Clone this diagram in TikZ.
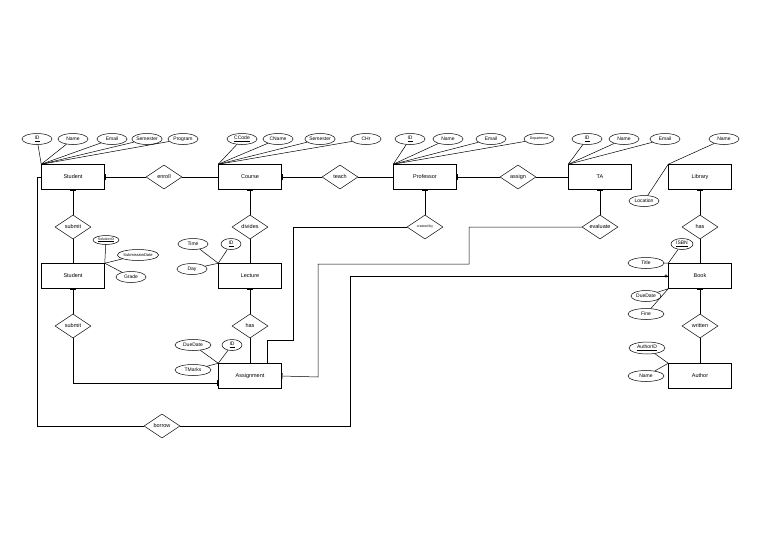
\documentclass[tikz,border=0pt]{standalone}
\usepackage{fontspec}
\setmainfont{Liberation Sans}
\usetikzlibrary{shapes.geometric,arrows.meta}
\begin{document}
\begin{tikzpicture}[x=1pt,y=-1pt,
  ent/.style={draw,minimum width=63pt,minimum height=25pt,font=\fontsize{5.5}{6}\selectfont,inner sep=0},
  rel/.style={draw,diamond,aspect=1.5,minimum width=36pt,minimum height=24pt,inner sep=0,font=\fontsize{5.5}{6}\selectfont},
  att/.style={draw,ellipse,minimum width=30pt,minimum height=11pt,inner sep=0,font=\fontsize{5}{6}\selectfont},
  mk/.style={-{Bar[width=6pt,line width=0.7pt]}},
  mm/.style={-{Bar[width=6pt,line width=0.7pt]Bar[width=6pt,line width=0.7pt]}},
  line width=0.5pt]
\useasboundingbox (0,0) rectangle (768,543);
% entities
\node[ent] (stu) at (73,177) {Student};
\node[ent] (crs) at (250,177) {Course};
\node[ent] (prof) at (425,177) {Professor};
\node[ent] (ta) at (600,177) {TA};
\node[ent] (lib) at (700,177) {Library};
\node[ent] (stu2) at (73,276) {Student};
\node[ent] (lec) at (250,276) {Lecture};
\node[ent] (book) at (700,276) {Book};
\node[ent] (asg) at (250,376) {Assignment};
\node[ent] (auth) at (700,376) {Author};
% relations
\node[rel] (enroll) at (164,177) {enroll};
\node[rel] (teach) at (340,177) {teach};
\node[rel] (assign) at (518,177) {assign};
\node[rel] (submit) at (73,227) {submit};
\node[rel] (divides) at (250,227) {divides};
\node[rel,font=\fontsize{3.5}{4}\selectfont] (cby) at (425,227) {created by};
\node[rel] (eval) at (600,227) {evaluate};
\node[rel] (has) at (700,227) {has};
\node[rel] (submit2) at (73,326) {submit};
\node[rel] (has2) at (250,326) {has};
\node[rel] (written) at (700,326) {written};
\node[rel] (borrow) at (162,426) {borrow};
% attributes
\foreach \n/\x/\t in {s1/37/\underline{ID},s2/73/Name,s3/112/Email,s4/147/Semester,s5/183/Program}
  {\node[att] (\n) at (\x,139) {\t}; \draw (\n) -- (stu.north west);}
\foreach \n/\x/\t in {c1/242/\underline{CCode},c2/278/CName,c3/320/Semester,c4/366/CHr}
  {\node[att] (\n) at (\x,139) {\t}; \draw (\n) -- (crs.north west);}
\foreach \n/\x/\t in {p1/410/\underline{ID},p2/448/Name,p3/491/Email,p4/539/{\fontsize{3.5}{4}\selectfont Department}}
  {\node[att] (\n) at (\x,139) {\t}; \draw (\n) -- (prof.north west);}
\foreach \n/\x/\t in {t1/587/\underline{ID},t2/624/Name,t3/665/Email}
  {\node[att] (\n) at (\x,139) {\t}; \draw (\n) -- (ta.north west);}
\node[att] (l1) at (724,139) {Name}; \draw (l1) -- (lib.north west);
\node[att] (l2) at (644,201) {Location}; \draw (l2) -- (lib.north west);
\node[att,minimum width=26pt,minimum height=9pt,font=\fontsize{3.5}{4}\selectfont] (sa1) at (106,240) {\underline{SolutionID}};
\node[att,minimum width=40pt,font=\fontsize{4}{5}\selectfont] (sa2) at (138,255) {SubmissionDate};
\node[att] (sa3) at (131,277) {Grade};
\foreach \n in {sa1,sa2,sa3} \draw (\n) -- (stu2.north east);
\node[att] (la1) at (193,244) {Time};
\node[att,minimum width=20pt] (la2) at (231,244) {\underline{ID}};
\node[att] (la3) at (192,269) {Day};
\foreach \n in {la1,la2,la3} \draw (\n) -- (lec.north west);
\node[att,minimum width=36pt] (aa1) at (193,345) {DueDate};
\node[att,minimum width=20pt] (aa2) at (232,345) {\underline{ID}};
\node[att,minimum width=36pt] (aa3) at (193,370) {TMarks};
\foreach \n in {aa1,aa2,aa3} \draw (\n) -- (asg.north west);
\node[att,minimum width=22pt] (ba1) at (682,244) {\underline{ISBN}};
\node[att,minimum width=36pt] (ba2) at (646,263) {Title};
\node[att] (ba3) at (646,296) {DueDate};
\node[att,minimum width=36pt] (ba4) at (646,314) {Fine};
\foreach \n in {ba1,ba2} \draw (\n) -- (book.north west);
\foreach \n in {ba3,ba4} \draw (\n) -- (book.south west);
\node[att,minimum width=36pt,minimum height=12pt] (au1) at (647,348) {\underline{AuthorID}};
\node[att,minimum width=36pt] (au2) at (646,376) {Name};
\foreach \n in {au1,au2} \draw (\n) -- (auth.north west);
% connectors
\draw[mk] (enroll) -- (stu);
\draw[mk] (enroll) -- (crs);
\draw[mm] (teach) -- (crs);
\draw[mk] (teach) -- (prof);
\draw[mk] (assign) -- (prof);
\draw[mk] (assign) -- (ta);
\draw[mk] (submit) -- (stu);
\draw[mk] (submit) -- (stu2);
\draw[mm] (divides) -- (crs);
\draw[mk] (divides) -- (lec);
\draw[mk] (cby) -- (prof);
\draw[mk] (cby.west) -- (293,227) -- (293,340) -- (267,340) -- (267,364);
\draw[mm] (eval) -- (ta);
\draw[mk] (eval.west) -- (469,227) -- (469,264) -- (318,264) -- (318,377) -- (asg.east);
\draw[mm] (has) -- (lib);
\draw[mk] (has) -- (book);
\draw[mk] (submit2) -- (stu2);
\draw[mk] (submit2) -- (73,383) -- (218,383);
\draw[mm] (has2) -- (lec);
\draw[mk] (has2) -- (asg);
\draw[mm] (written) -- (book);
\draw[mk] (written) -- (auth);
\draw[mk] (borrow.west) -- (37,426) -- (37,177) -- (stu.west);
\draw[-{Circle[open,length=3pt]Bar[width=6pt,line width=0.7pt]}] (borrow.east) -- (350,426) -- (350,276) -- (book.west);
\end{tikzpicture}
\end{document}
